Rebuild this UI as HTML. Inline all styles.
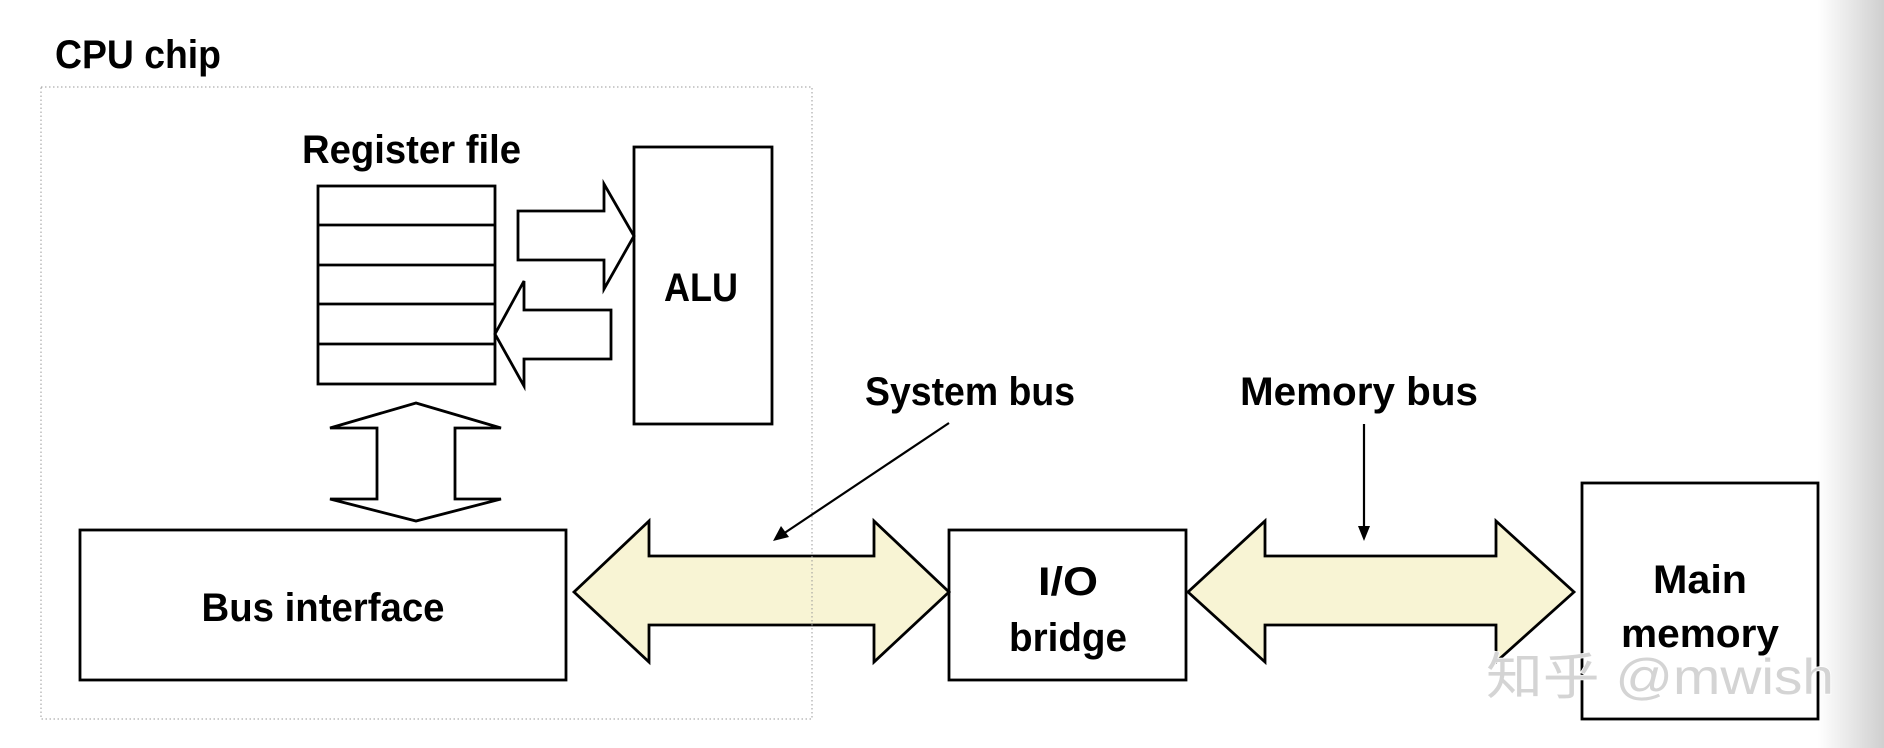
<!DOCTYPE html>
<html><head><meta charset="utf-8"><style>
html,body{margin:0;padding:0;background:#fff;}
svg{display:block;}
text{font-family:"Liberation Sans","Noto Sans CJK SC",sans-serif;font-weight:bold;fill:#000;font-size:40px;}
</style></head><body>
<svg width="1884" height="748" viewBox="0 0 1884 748" xmlns="http://www.w3.org/2000/svg">
<defs>
<linearGradient id="g" x1="0" x2="1" y1="0" y2="0">
<stop offset="0" stop-color="#ffffff"/><stop offset="1" stop-color="#cfcfcf"/>
</linearGradient>
</defs>
<rect x="1818" y="0" width="66" height="748" fill="url(#g)"/>
<text x="55" y="68" textLength="166" lengthAdjust="spacingAndGlyphs">CPU chip</text>
<g fill="none" stroke="#000" stroke-width="2.8">
<rect x="318" y="186" width="177" height="198" fill="#fff"/>
<line x1="318" y1="225" x2="495" y2="225"/>
<line x1="318" y1="265" x2="495" y2="265"/>
<line x1="318" y1="304" x2="495" y2="304"/>
<line x1="318" y1="344" x2="495" y2="344"/>
<rect x="634" y="147" width="138" height="277" fill="#fff"/>
<polygon points="518,211 604,211 604,184 634,236 604,289 604,260 518,260" fill="#fff"/>
<polygon points="611,310 524,310 524,281 495,334 524,386 524,359 611,359" fill="#fff"/>
<polygon points="416,403 501,428 455,428 455,499 501,499 416,521 330,499 377,499 377,428 330,428" fill="#fff"/>
<rect x="80" y="530" width="486" height="150" fill="#fff"/>
<rect x="949" y="530" width="237" height="150" fill="#fff"/>
<rect x="1582" y="483" width="236" height="236" fill="#fff"/>
<polygon points="574,592 649,521 649,556 874,556 874,521 949,592 874,662 874,625 649,625 649,662" fill="#f8f4d4"/>
<polygon points="1188,592 1265,521 1265,556 1496,556 1496,521 1574,592 1496,662 1496,625 1265,625 1265,662" fill="#f8f4d4"/>
</g>
<rect x="41" y="87" width="771" height="632" fill="none" stroke="#999" stroke-width="1" stroke-dasharray="1.5,2.5"/>
<line x1="949" y1="423" x2="783" y2="534" stroke="#000" stroke-width="2.2"/>
<polygon points="773,541 781,526 789,537" fill="#000"/>
<line x1="1364" y1="424" x2="1364" y2="528" stroke="#000" stroke-width="2.2"/>
<polygon points="1358,526 1370,526 1364,541" fill="#000"/>
<text x="701" y="301" text-anchor="middle" textLength="74" lengthAdjust="spacingAndGlyphs">ALU</text>
<text x="323" y="621" text-anchor="middle" textLength="243" lengthAdjust="spacingAndGlyphs">Bus interface</text>
<text x="302" y="163" textLength="219" lengthAdjust="spacingAndGlyphs">Register file</text>
<text x="865" y="405" textLength="210" lengthAdjust="spacingAndGlyphs">System bus</text>
<text x="1240" y="405" textLength="238" lengthAdjust="spacingAndGlyphs">Memory bus</text>
<text x="1068" y="595" text-anchor="middle" textLength="60" lengthAdjust="spacingAndGlyphs">I/O</text>
<text x="1068" y="651" text-anchor="middle" textLength="118" lengthAdjust="spacingAndGlyphs">bridge</text>
<text x="1700" y="593" text-anchor="middle" textLength="94" lengthAdjust="spacingAndGlyphs">Main</text>
<text x="1700" y="647" text-anchor="middle" textLength="158" lengthAdjust="spacingAndGlyphs">memory</text>
<text x="1486" y="694" textLength="348" lengthAdjust="spacingAndGlyphs" style="font-weight:normal;font-size:50px;fill:#d4d4d4;stroke:#fff;stroke-width:1.5;paint-order:stroke">知乎 @mwish</text>
</svg>
</body></html>
